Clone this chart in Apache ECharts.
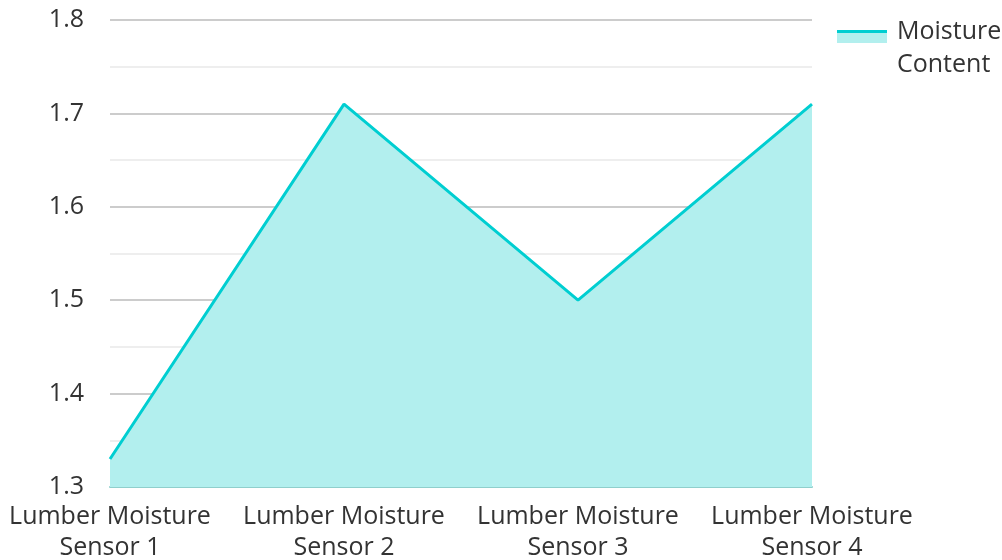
<!DOCTYPE html>
<html><head><meta charset="utf-8">
<script src="https://cdn.jsdelivr.net/npm/echarts@6/dist/echarts.min.js"></script>
<style>html,body{margin:0;padding:0;background:#fff}#c{width:1002px;height:560px}</style>
</head><body><div id="c"></div>
<script>
const categories = ['Lumber Moisture\nSensor 1', 'Lumber Moisture\nSensor 2', 'Lumber Moisture\nSensor 3', 'Lumber Moisture\nSensor 4'];
const moisture = [1.33, 1.71, 1.50, 1.71];
const seriesName = 'Moisture\nContent';

const chart = echarts.init(document.getElementById('c'));
const font = '"Open Sans", sans-serif';
chart.setOption({
  animation: false,
  textStyle: { fontFamily: font },
  grid: { left: 110, right: 190, top: 20, bottom: 73, containLabel: false, outerBoundsMode: 'none' },
  legend: {
    left: 842, top: 15, orient: 'vertical', padding: 0,
    itemWidth: 50, itemHeight: 13,
    icon: 'rect',
    itemStyle: { opacity: 0 },
    textStyle: { fontSize: 25, lineHeight: 33, color: '#333', fontFamily: font },
    data: [seriesName]
  },
  graphic: [
    { type: 'rect', shape: { x: 837, y: 30, width: 50, height: 13 }, style: { fill: '#b2efee' }, silent: true },
    { type: 'rect', shape: { x: 837, y: 30, width: 50, height: 3 }, style: { fill: '#00CED1' }, silent: true }
  ],
  xAxis: {
    type: 'category', data: categories, boundaryGap: false,
    axisLine: { show: true, lineStyle: { color: '#8fcfcc', width: 2 } },
    axisTick: { show: false },
    axisLabel: { fontSize: 25, lineHeight: 31, color: '#333', margin: 14, fontFamily: font, interval: 0 },
    splitLine: { show: false }
  },
  yAxis: {
    type: 'value', min: 1.3, max: 1.8, interval: 0.1,
    axisLine: { show: false }, axisTick: { show: false },
    axisLabel: { fontSize: 25, color: '#333', margin: 26, fontFamily: font, formatter: v => v.toFixed(1) },
    splitLine: { show: true, lineStyle: { color: '#cccccc', width: 2 } },
    minorTick: { show: false, splitNumber: 2 },
    minorSplitLine: { show: true, lineStyle: { color: '#eeeeee', width: 2 } }
  },
  series: [{
    name: seriesName, type: 'line', data: moisture, symbol: 'none',
    lineStyle: { color: '#00CED1', width: 3 },
    itemStyle: { color: '#00CED1' },
    areaStyle: { color: '#b2efee', opacity: 1, origin: 'start' }
  }]
});
</script></body></html>
